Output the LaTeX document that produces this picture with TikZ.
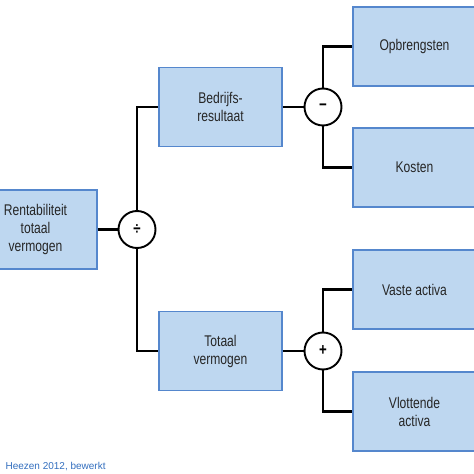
\documentclass[tikz,border=0pt]{standalone}
\usepackage{fontspec}
\setmainfont{Liberation Sans}[FakeStretch=0.78]
\newfontfamily\bronfont{Liberation Sans}
\usetikzlibrary{positioning}
\definecolor{vakblauw}{RGB}{190,215,240}
\definecolor{randblauw}{RGB}{85,135,205}
\definecolor{bronblauw}{RGB}{50,110,190}

\begin{document}
\begin{tikzpicture}[x=1pt,y=1pt,node distance=102.5pt,
  every node/.style={font=\fontsize{15.5}{18}\selectfont,text=black!85},
  box/.style={draw=randblauw,fill=vakblauw,line width=1.2pt,minimum width=123pt,minimum height=79pt,align=center,inner sep=2pt},
  op/.style={circle,draw,fill=white,text=black,line width=1.9pt,minimum size=37pt,inner sep=0pt,font=\bfseries\fontsize{17}{17}\selectfont},
  line/.style={line width=2.3pt}]

	\useasboundingbox (0,0) rectangle (474,474);

	\node[box] (rtv) at (35.5,244.5) {Rentabiliteit\\totaal\\vermogen};
	\node[op] (deel) [right of=rtv, node distance=101.5pt] {÷};

	\node[box] (bedr) at (220.5,367) {Bedrijfs-\\resultaat};
	\node[op] (min) [right of=bedr] {−};
	\node[box] (opbr) at (414.5,427.5) {Opbrengsten};
	\node[box] (kost) at (414.5,306.5) {Kosten};

	\node[box] (totv) at (220.5,123) {Totaal\\vermogen};
	\node[op] (plus) [right of=totv] {+};
	\node[box] (vast) at (414.5,184.5) {Vaste activa};
	\node[box] (vlot) at (414.5,62.5) {Vlottende\\activa};

	\node[font=\bronfont\fontsize{10}{12}\selectfont,text=bronblauw,anchor=base west] (bron) at (2,5) {Heezen 2012, bewerkt};

	\draw[line] (rtv) -- (deel);
	\draw[line] (deel) |- (bedr);
	\draw[line] (deel) |- (totv);
	\draw[line] (bedr) -- (min);
	\draw[line] (min) |- (opbr);
	\draw[line] (min) |- (kost);
	\draw[line] (totv) -- (plus);
	\draw[line] (plus) |- (vast);
	\draw[line] (plus) |- (vlot);
\end{tikzpicture}
\end{document}
